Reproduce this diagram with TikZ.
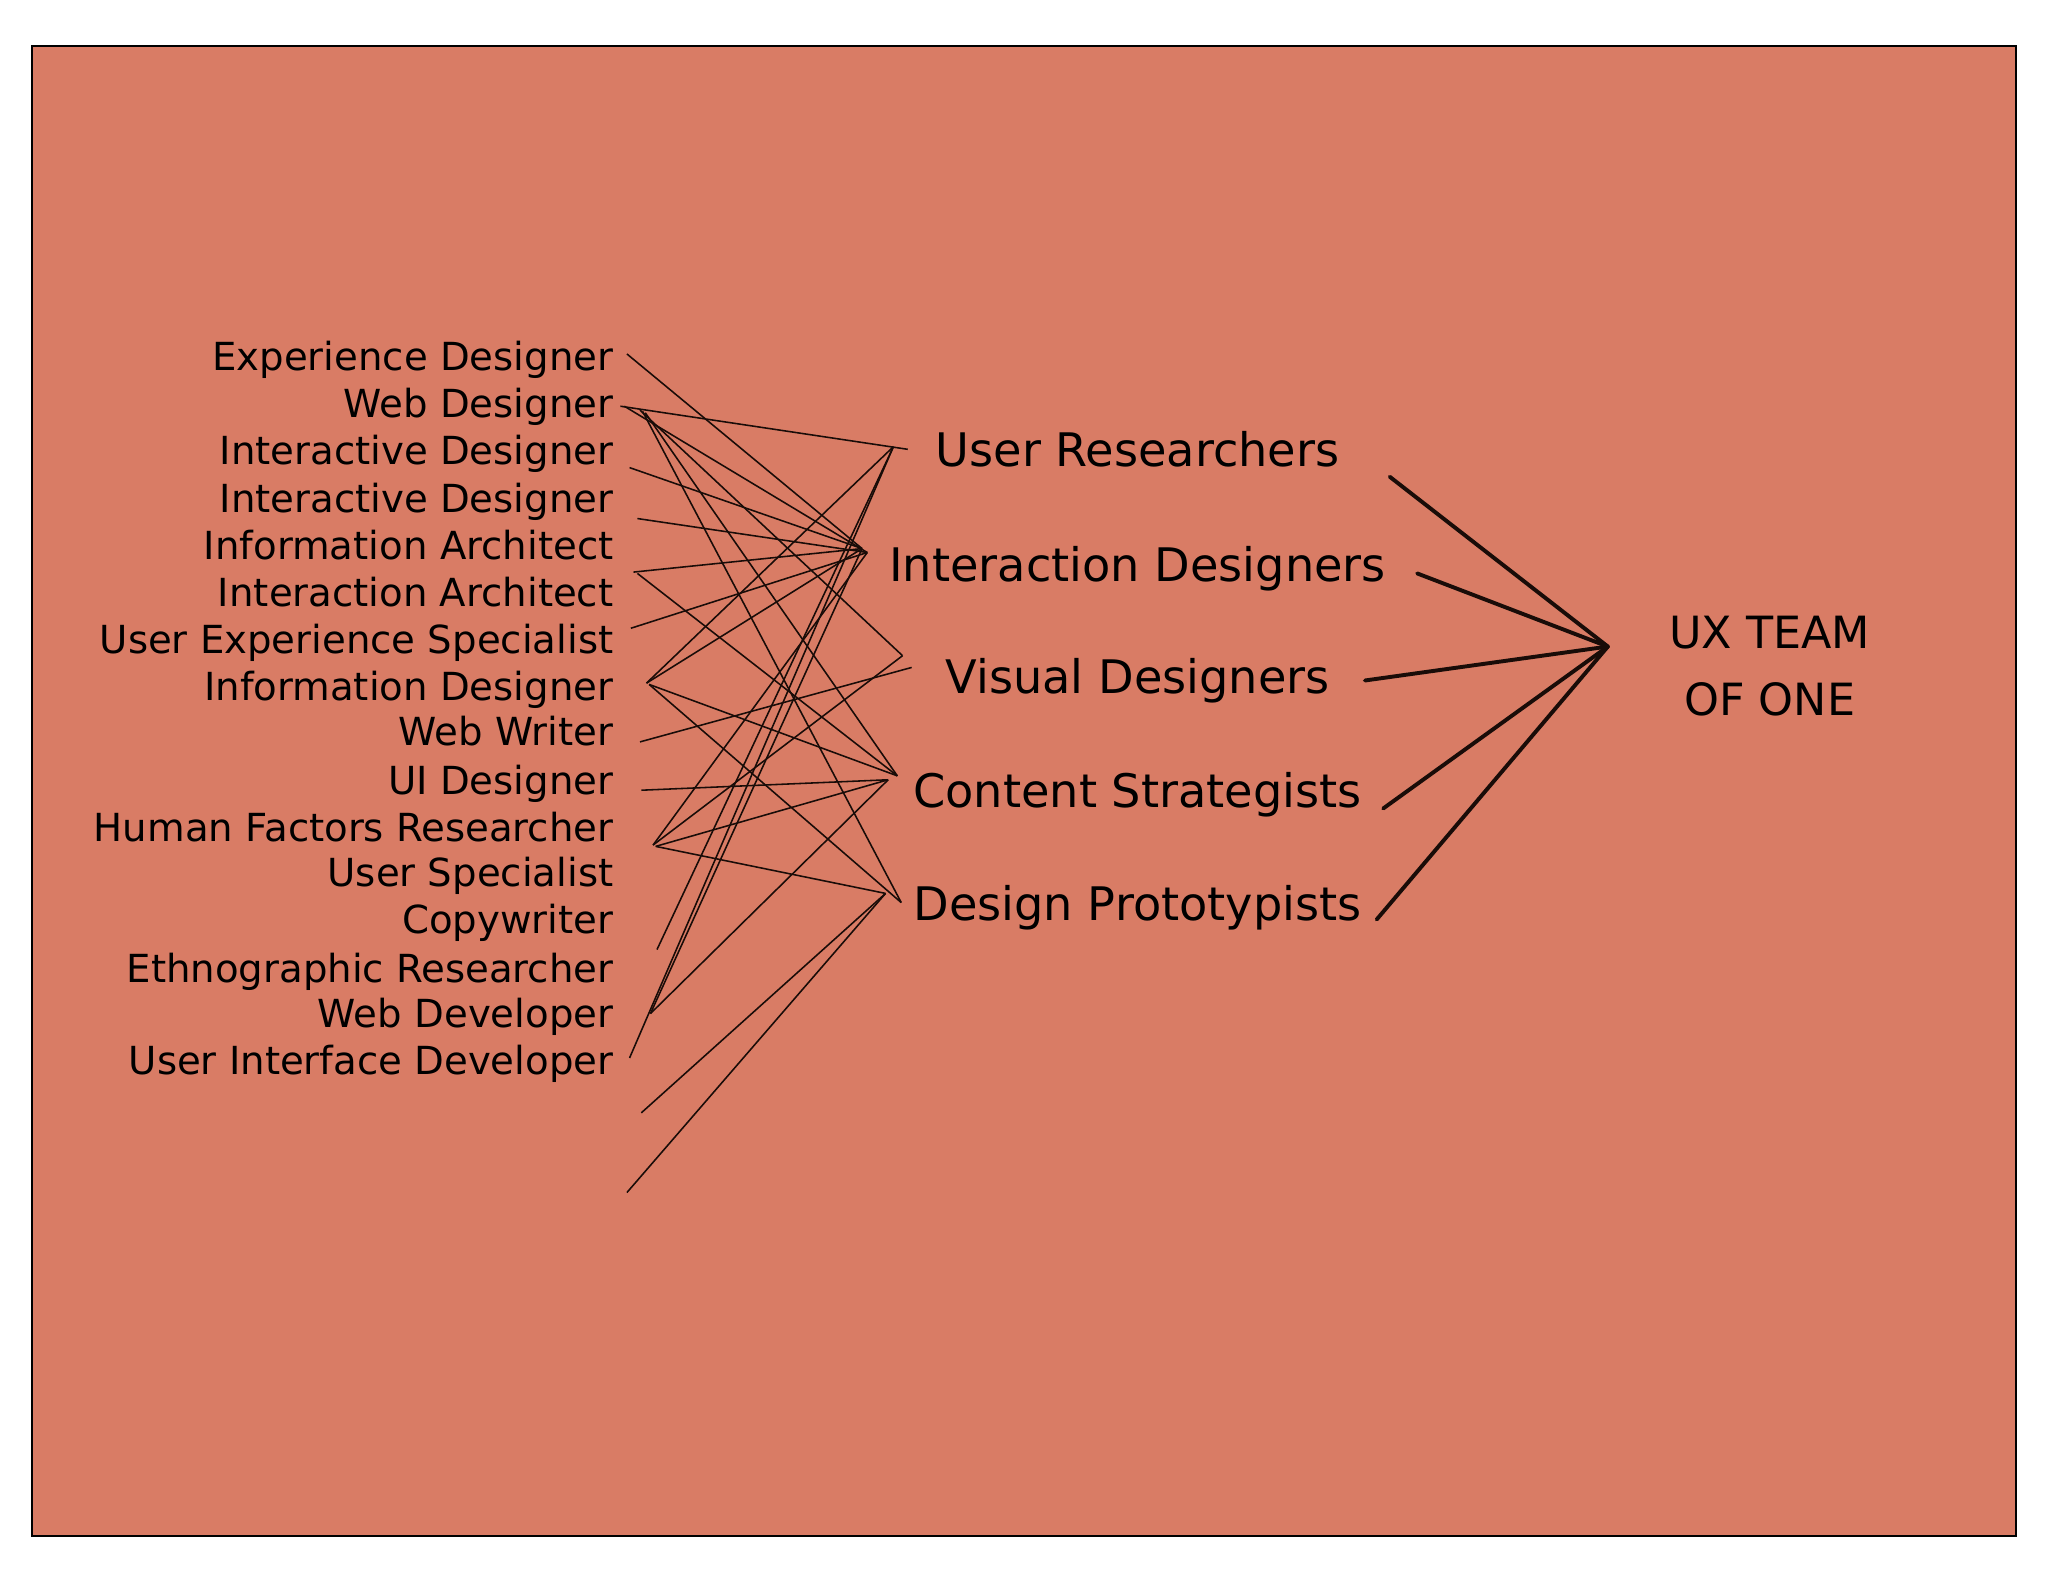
\documentclass[tikz,border=0pt]{standalone}
\usepackage{fontspec}
\setmainfont{DejaVu Sans}
\definecolor{bgc}{RGB}{217,124,101}
\definecolor{inkc}{RGB}{25,12,8}
\begin{document}
\begin{tikzpicture}[x=0.5pt,y=-0.5pt,
  lab/.style={anchor=base east, inner sep=0pt, font=\fontsize{14.8}{16}\selectfont},
  midlab/.style={anchor=base, inner sep=0pt, font=\fontsize{17.7}{20}\selectfont},
  teamlab/.style={anchor=base, inner sep=0pt, font=\fontsize{17}{20}\selectfont},
  conn/.style={line width=0.6pt, draw=inkc},
  hubline/.style={line width=1.5pt, draw=inkc, line cap=round}]
\useasboundingbox (0,0) rectangle (1568,1211);
\fill[white] (0,0) rectangle (1568,1211);
\draw[fill=bgc, line width=0.6pt] (24.5,35.2) rectangle (1543.6,1176);

% left labels
\node[lab] (r1)  at (470,284) {Experience Designer};
\node[lab] (r2)  at (470,320) {Web Designer};
\node[lab] (r3)  at (470,356) {Interactive Designer};
\node[lab] (r4)  at (470,392) {Interactive Designer};
\node[lab] (r5)  at (470,428) {Information Architect};
\node[lab] (r6)  at (470,464) {Interaction Architect};
\node[lab] (r7)  at (470,500) {User Experience Specialist};
\node[lab] (r8)  at (470,536) {Information Designer};
\node[lab] (r9)  at (470,571) {Web Writer};
\node[lab] (r10) at (470,608) {UI Designer};
\node[lab] (r11) at (470,644) {Human Factors Researcher};
\node[lab] (r12) at (470,679) {User Specialist};
\node[lab] (r13) at (470,715) {Copywriter};
\node[lab] (r14) at (470,752) {Ethnographic Researcher};
\node[lab] (r15) at (470,787) {Web Developer};
\node[lab] (r16) at (470,823) {User Interface Developer};

% middle labels
\node[midlab] (ur) at (871,357) {User Researchers};
\node[midlab] (ix) at (871,445) {Interaction Designers};
\node[midlab] (vd) at (871,531) {Visual Designers};
\node[midlab] (cs) at (871,618) {Content Strategists};
\node[midlab] (dp) at (871,705) {Design Prototypists};

% team
\node[teamlab] (team1) at (1355,496.5) {UX TEAM};
\node[teamlab] (team2) at (1355,547.5) {OF ONE};

% left line ends
\coordinate (a1) at (480,271);
\coordinate (a2a) at (475,311);
\coordinate (a2b) at (478,311);
\coordinate (a2c) at (490,314);
\coordinate (a2d) at (494,316);
\coordinate (a2e) at (492,315);
\coordinate (a3) at (482,358);
\coordinate (a4) at (488,397);
\coordinate (a5) at (485,438);
\coordinate (a5b) at (488,439);
\coordinate (a6) at (483,481);
\coordinate (a7) at (495,523);
\coordinate (a7b) at (497,524);
\coordinate (a8) at (490,568);
\coordinate (a9) at (491,605);
\coordinate (a10) at (500,647);
\coordinate (a10b) at (502,648);
\coordinate (la) at (503,727);
\coordinate (lb) at (498,776);
\coordinate (lc) at (482,810);
\coordinate (ld) at (491,852);
\coordinate (le) at (480,913);

% convergence points
\coordinate (pur) at (684,342);
\coordinate (pur2) at (695,344);
\coordinate (pid) at (660,420);
\coordinate (pid2) at (664,423);
\coordinate (pvd) at (691,502);
\coordinate (pvd2) at (698,511);
\coordinate (pcs) at (680,597);
\coordinate (pcs2) at (687,594);
\coordinate (pdp) at (678,684);
\coordinate (pdp2) at (690,691);

% connectors
\draw[conn] (a1) -- (pid);
\draw[conn] (a2a) -- (pur2);
\draw[conn] (a2b) -- (pid2);
\draw[conn] (a2c) -- (pvd);
\draw[conn] (a2d) -- (pcs2);
\draw[conn] (a2e) -- (pdp2);
\draw[conn] (a3) -- (pid);
\draw[conn] (a4) -- (pid2);
\draw[conn] (a5) -- (pid);
\draw[conn] (a5b) -- (pcs2);
\draw[conn] (a6) -- (pid2);
\draw[conn] (a7) -- (pur);
\draw[conn] (a7) -- (pid);
\draw[conn] (a7b) -- (pcs2);
\draw[conn] (a7b) -- (pdp2);
\draw[conn] (a8) -- (pvd2);
\draw[conn] (a9) -- (pcs);
\draw[conn] (a10) -- (pid2);
\draw[conn] (a10) -- (pvd);
\draw[conn] (a10b) -- (pcs);
\draw[conn] (a10b) -- (pdp);
\draw[conn] (la) -- (pur);
\draw[conn] (lb) -- (pid);
\draw[conn] (lb) -- (pcs);
\draw[conn] (lc) -- (pur);
\draw[conn] (ld) -- (pdp);
\draw[conn] (le) -- (pdp);

% hub lines
\coordinate (hub) at (1231,495);
\coordinate (h1) at (1064,365);
\coordinate (h2) at (1085,439);
\coordinate (h3) at (1045,521);
\coordinate (h4) at (1059,619);
\coordinate (h5) at (1054,704);
\draw[hubline] (h1) -- (hub);
\draw[hubline] (h2) -- (hub);
\draw[hubline] (h3) -- (hub);
\draw[hubline] (h4) -- (hub);
\draw[hubline] (h5) -- (hub);
\end{tikzpicture}
\end{document}
